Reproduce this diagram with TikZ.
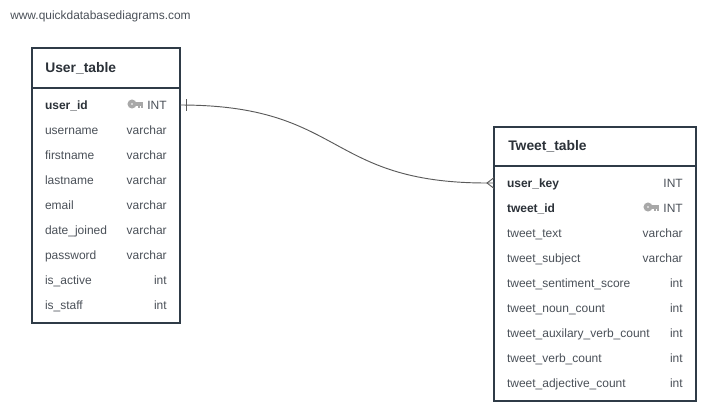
\documentclass[tikz,border=0pt]{standalone}
\usepackage{fontspec}
\setmainfont{Liberation Sans}
\definecolor{boxline}{HTML}{2F3B47}
\definecolor{rowtext}{HTML}{4A5058}
\definecolor{keytext}{HTML}{2B3138}
\definecolor{keygrey}{HTML}{A8A8A8}
\definecolor{linkline}{HTML}{5A5A5A}
\tikzset{
  tablebox/.style={draw=boxline, line width=1.5pt, anchor=north west, inner sep=0pt, outer sep=0pt},
  tabletitle/.style={anchor=west, font=\fontsize{10.4}{12}\selectfont\bfseries, text=keytext, inner sep=0pt},
  rowname/.style={anchor=west, minimum height=18.75*0.75pt, inner xsep=9.75pt, inner ysep=0pt, outer sep=0pt, text height=7.4pt, text depth=1.4pt, align=left, text=rowtext, font=\fontsize{9}{11}\selectfont},
  keyname/.style={rowname, text=keytext, font=\fontsize{9}{11}\selectfont\bfseries},
  rowtype/.style={anchor=east, inner sep=0pt, text height=7.4pt, text depth=1.4pt, text=rowtext, font=\fontsize{9}{11}\selectfont},
  link/.style={draw=linkline, line width=0.7pt},
  pics/keyicon/.style={code={
    \fill[keygrey, even odd rule] (0,0) circle (3.4pt) (0,0) circle (0.9pt);
    \fill[keygrey] (2.6pt,-1.2pt) rectangle (8.2pt,1.4pt);
    \fill[keygrey] (4.6pt,-1pt) rectangle (5.9pt,-2.7pt);
    \fill[keygrey] (6.9pt,-1pt) rectangle (8.2pt,-2.7pt);
  }}
}
\begin{document}
\begin{tikzpicture}[x=0.75pt, y=-0.75pt]
\useasboundingbox (0,0) rectangle (723,419);
\node[anchor=west, inner sep=0pt, text=rowtext, font=\fontsize{8.95}{10}\selectfont] (siteurl) at (10,16) {www.quickdatabasediagrams.com};

% User_table
\node[tablebox, minimum width=148*0.75pt, minimum height=275*0.75pt] (usertable) at (32,48) {};
\draw[draw=boxline, line width=1.5pt] (32,88) -- (180,88);
\node[tabletitle] (usertitle) at (45,68) {User\_table};
\foreach \rowid/\rowy/\rowlabel/\rowkind/\rowstyle in {
  userid/105/user\_id/INT/keyname,
  username/130/username/varchar/rowname,
  firstname/155/firstname/varchar/rowname,
  lastname/180/lastname/varchar/rowname,
  email/205/email/varchar/rowname,
  datejoined/230/date\_joined/varchar/rowname,
  password/255/password/varchar/rowname,
  isactive/280/is\_active/int/rowname,
  isstaff/305/is\_staff/int/rowname}{
  \node[\rowstyle, text width=148*0.75pt-19.5pt] (\rowid) at (32,\rowy) {\rowlabel};
  \node[rowtype] (\rowid type) at (167,\rowy) {\rowkind};
}
\pic at (132,104) {keyicon};

% Tweet_table
\node[tablebox, minimum width=202*0.75pt, minimum height=274*0.75pt] (tweettable) at (494,127) {};
\draw[draw=boxline, line width=1.5pt] (494,166) -- (696,166);
\node[tabletitle] (tweettitle) at (508,146) {Tweet\_table};
\foreach \rowid/\rowy/\rowlabel/\rowkind/\rowstyle in {
  userkey/183/user\_key/INT/keyname,
  tweetid/208/tweet\_id/INT/keyname,
  tweettext/233/tweet\_text/varchar/rowname,
  tweetsubject/258/tweet\_subject/varchar/rowname,
  sentiment/283/tweet\_sentiment\_score/int/rowname,
  nouncount/308/tweet\_noun\_count/int/rowname,
  auxcount/333/tweet\_auxilary\_verb\_count/int/rowname,
  verbcount/358/tweet\_verb\_count/int/rowname,
  adjcount/383/tweet\_adjective\_count/int/rowname}{
  \node[\rowstyle, text width=202*0.75pt-19.5pt] (\rowid) at (494,\rowy) {\rowlabel};
  \node[rowtype] (\rowid type) at (683,\rowy) {\rowkind};
}
\pic at (648,207) {keyicon};

% link between the two tables
\coordinate (crowtip) at ([xshift=-7*0.75pt]userkey.west);
\draw[link] (userid.east) .. controls (345,105) and (325,183) .. (crowtip) -- (userkey.west);
\draw[link] ([xshift=4.5pt,yshift=4.5pt]userid.east) -- ([xshift=4.5pt,yshift=-4.5pt]userid.east);
\draw[link] ([yshift=4pt]userkey.west) -- (crowtip) -- ([yshift=-4pt]userkey.west);
\end{tikzpicture}
\end{document}
